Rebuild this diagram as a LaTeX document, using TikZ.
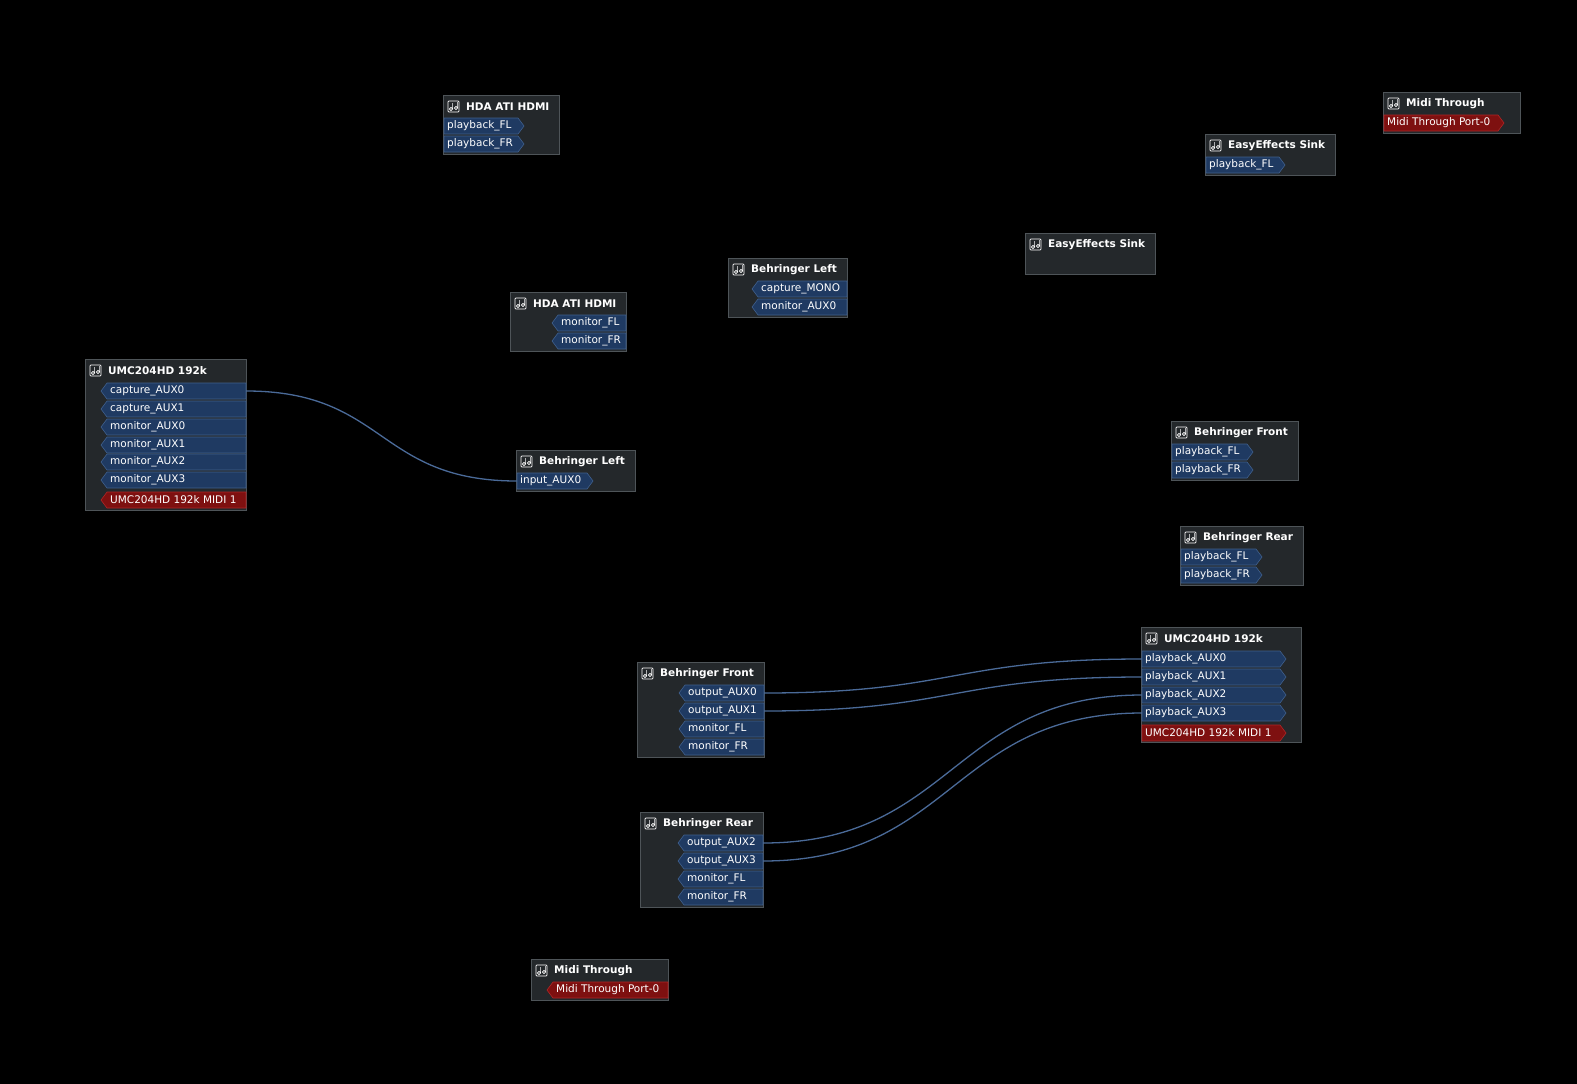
\documentclass[tikz,border=0pt]{standalone}
\usepackage{fontspec}
\setmainfont{DejaVu Sans}
\definecolor{bg}{HTML}{000000}
\definecolor{boxfill}{HTML}{24282B}
\definecolor{boxline}{HTML}{4E5458}
\definecolor{portblue}{HTML}{1F3A62}
\definecolor{portblueline}{HTML}{3F5F8C}
\definecolor{portred}{HTML}{7E1010}
\definecolor{portredline}{HTML}{B02525}
\definecolor{wire}{HTML}{4A6A98}
\tikzset{
  boxst/.style={fill=boxfill,draw=boxline,line width=0.8pt},
  titlest/.style={text=white,font=\fontsize{10.5}{12}\selectfont\bfseries,anchor=west,inner sep=0pt},
  labst/.style={text=white,font=\fontsize{10.5}{12}\selectfont,anchor=west,inner sep=0pt},
  wirest/.style={draw=wire,line width=1.3pt}
}
% box: x1 y1 x2 y2 title
\newcommand{\pbox}[6]{%
  \draw[boxst] (#2,#3) rectangle (#4,#5);
  \draw[white,line width=0.7pt,rounded corners=0.8pt] (#2+5,#3+6) rectangle (#2+16,#3+17);
  \draw[white,line width=0.6pt] (#2+8,#3+14) circle (1.6) (#2+13,#3+13) circle (1.6) (#2+9.6,#3+14)--(#2+9.6,#3+8) (#2+14.6,#3+13)--(#2+14.6,#3+7);
  \node[titlest] (#1) at (#2+23,#3+11.5) {#6};}
% output port: name xl xr y label color
\newcommand{\outport}[6]{%
  \draw[fill=port#6,draw=port#6line,line width=0.6pt] (#2,#4)--(#2+6,#4-8)--(#3,#4-8)--(#3,#4+8)--(#2+6,#4+8)--cycle;
  \node[labst] at (#2+9,#4) {#5};
  \coordinate (#1) at (#3,#4);}
\newcommand{\inport}[6]{%
  \draw[fill=port#6,draw=port#6line,line width=0.6pt] (#2,#4-8)--(#3-6,#4-8)--(#3,#4)--(#3-6,#4+8)--(#2,#4+8)--cycle;
  \node[labst] at (#2+3,#4) {#5};
  \coordinate (#1) at (#2,#4);}
\begin{document}
\begin{tikzpicture}[x=1pt,y=-1pt]
\fill[bg] (0,0) rectangle (1577,1084);
\useasboundingbox (0,0) rectangle (1577,1084);
% HDA ATI HDMI (in)
\pbox{hdain}{443}{95}{559}{154}{HDA ATI HDMI}
\inport{hdainfl}{444}{524}{126}{playback\_FL}{blue}
\inport{hdainfr}{444}{524}{144}{playback\_FR}{blue}
% Midi Through top
\pbox{midiin}{1383}{92}{1520}{133}{Midi Through}
\inport{midiinp}{1384}{1504}{123}{Midi Through Port-0}{red}
% EasyEffects Sink
\pbox{eesa}{1205}{134}{1335}{175}{EasyEffects Sink}
\inport{eesafl}{1206}{1285}{165}{playback\_FL}{blue}
\pbox{eesb}{1025}{233}{1155}{274}{EasyEffects Sink}
% Behringer Left out
\pbox{blout}{728}{258}{847}{317}{Behringer Left}
\outport{bloutm}{752}{847}{289}{capture\_MONO}{blue}
\outport{bloutmon}{752}{847}{307}{monitor\_AUX0}{blue}
% HDA out
\pbox{hdaout}{510}{292}{626}{351}{HDA ATI HDMI}
\outport{hdaoutfl}{552}{626}{323}{monitor\_FL}{blue}
\outport{hdaoutfr}{552}{626}{341}{monitor\_FR}{blue}
% UMC out
\pbox{umcout}{85}{359}{246}{510}{UMC204HD 192k}
\outport{cap0}{101}{246}{391}{capture\_AUX0}{blue}
\outport{cap1}{101}{246}{409}{capture\_AUX1}{blue}
\outport{mon0}{101}{246}{427}{monitor\_AUX0}{blue}
\outport{mon1}{101}{246}{445}{monitor\_AUX1}{blue}
\outport{mon2}{101}{246}{462}{monitor\_AUX2}{blue}
\outport{mon3}{101}{246}{480}{monitor\_AUX3}{blue}
\outport{umcmidiout}{101}{246}{500}{UMC204HD 192k MIDI 1}{red}
% Behringer Left in
\pbox{blin}{516}{450}{635}{491}{Behringer Left}
\inport{blin0}{517}{593}{481}{input\_AUX0}{blue}
% Behringer Front in
\pbox{bfin}{1171}{421}{1298}{480}{Behringer Front}
\inport{bfinfl}{1172}{1253}{452}{playback\_FL}{blue}
\inport{bfinfr}{1172}{1253}{470}{playback\_FR}{blue}
% Behringer Rear in
\pbox{brin}{1180}{526}{1303}{585}{Behringer Rear}
\inport{brinfl}{1181}{1262}{557}{playback\_FL}{blue}
\inport{brinfr}{1181}{1262}{575}{playback\_FR}{blue}
% UMC in
\pbox{umcin}{1141}{627}{1301}{742}{UMC204HD 192k}
\inport{pb0}{1142}{1286}{659}{playback\_AUX0}{blue}
\inport{pb1}{1142}{1286}{677}{playback\_AUX1}{blue}
\inport{pb2}{1142}{1286}{695}{playback\_AUX2}{blue}
\inport{pb3}{1142}{1286}{713}{playback\_AUX3}{blue}
\inport{umcmidiin}{1142}{1286}{733}{UMC204HD 192k MIDI 1}{red}
% Behringer Front out
\pbox{bfout}{637}{662}{764}{757}{Behringer Front}
\outport{fo0}{679}{764}{693}{output\_AUX0}{blue}
\outport{fo1}{679}{764}{711}{output\_AUX1}{blue}
\outport{fofl}{679}{764}{729}{monitor\_FL}{blue}
\outport{fofr}{679}{764}{747}{monitor\_FR}{blue}
% Behringer Rear out
\pbox{brout}{640}{812}{763}{907}{Behringer Rear}
\outport{ro2}{678}{763}{843}{output\_AUX2}{blue}
\outport{ro3}{678}{763}{861}{output\_AUX3}{blue}
\outport{rofl}{678}{763}{879}{monitor\_FL}{blue}
\outport{rofr}{678}{763}{897}{monitor\_FR}{blue}
% Midi Through out
\pbox{midiout}{531}{959}{668}{1000}{Midi Through}
\outport{midioutp}{547}{668}{990}{Midi Through Port-0}{red}
% wires
\draw[wirest] (cap0) .. controls ++(140,0) and ++(-140,0) .. (blin0);
\draw[wirest] (fo0) .. controls ++(190,0) and ++(-190,0) .. (pb0);
\draw[wirest] (fo1) .. controls ++(190,0) and ++(-190,0) .. (pb1);
\draw[wirest] (ro2) .. controls ++(190,0) and ++(-190,0) .. (pb2);
\draw[wirest] (ro3) .. controls ++(190,0) and ++(-190,0) .. (pb3);
\end{tikzpicture}
\end{document}
